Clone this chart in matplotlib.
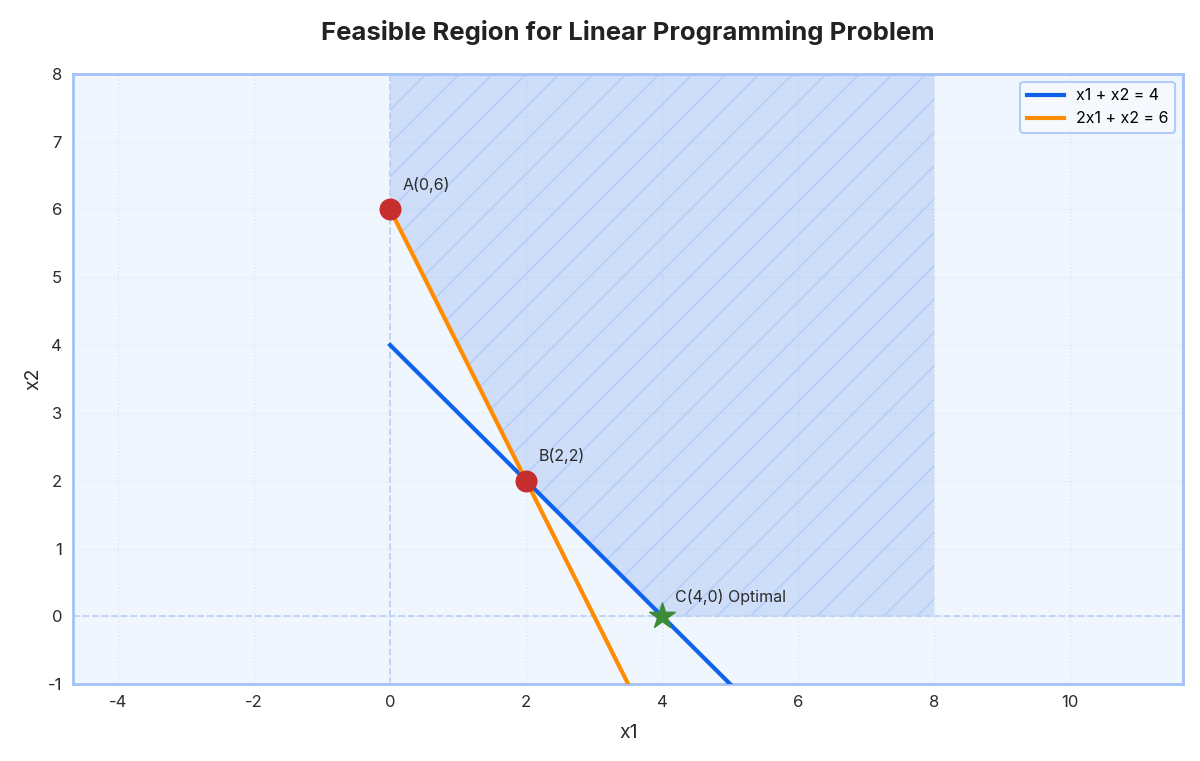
import numpy as np
import matplotlib
matplotlib.use("Agg")
import matplotlib.pyplot as plt

plt.rcParams['font.family'] = ['Inter', 'DejaVu Sans']
plt.rcParams['axes.unicode_minus'] = False
plt.rcParams['hatch.linewidth'] = 1.3

# constraint lines
x_blue = [0, 5]
y_blue = [4, -1]
x_orange = [0, 3.5]
y_orange = [6, -1]

# feasible region polygon corners
region_x = [0, 2, 4, 8, 8, 0]
region_y = [6, 2, 0, 0, 8, 8]

# vertices
vert_x = [0, 2]
vert_y = [6, 2]
vert_labels = ['A(0,6)', 'B(2,2)']
opt_x, opt_y = 4, 0

spine_col = '#a3c2f7'
text_col = '#2b2b2b'

fig, ax = plt.subplots(figsize=(12, 7.61), dpi=100)
fig.subplots_adjust(left=0.061, right=0.986, top=0.903, bottom=0.101)
ax.set_facecolor('#f0f6fe')

ax.fill(region_x, region_y, facecolor='#6b9aea', alpha=0.25, edgecolor='none', zorder=1)
ax.fill(region_x, region_y, facecolor='none', edgecolor='#b6cff8', hatch='/',
        linewidth=0, zorder=1)

ax.axhline(0, color='#bcd2f5', ls='--', lw=1.3, zorder=1.5)
ax.axvline(0, color='#bcd2f5', ls='--', lw=1.3, zorder=1.5)

ax.plot(x_blue, y_blue, color='#0f62ea', lw=3, label='x1 + x2 = 4', zorder=3)
ax.plot(x_orange, y_orange, color='#ff8c00', lw=3, label='2x1 + x2 = 6', zorder=3)

ax.scatter(vert_x, vert_y, s=220, color='#c62d2d', zorder=4)
for x, y, t in zip(vert_x, vert_y, vert_labels):
    ax.annotate(t, (x, y), xytext=(9, 14), textcoords='offset points',
                fontsize=11.5, color=text_col)
ax.scatter([opt_x], [opt_y], s=380, marker='*', color='#3d8b37', zorder=4)
ax.annotate('C(4,0) Optimal', (opt_x, opt_y), xytext=(9, 10),
            textcoords='offset points', fontsize=11.5, color=text_col)

ax.set_xlim(-4.66, 11.66)
ax.set_ylim(-1, 8)
ax.set_xticks([-4, -2, 0, 2, 4, 6, 8, 10])
ax.set_yticks(range(-1, 9))
ax.grid(True, ls=':', color='#dfe6f2', lw=1)
ax.set_axisbelow(True)
for s in ax.spines.values():
    s.set_color(spine_col)
    s.set_linewidth(2)
ax.tick_params(length=0, labelsize=12, colors=text_col, pad=8)

ax.set_xlabel('x1', fontsize=14, color=text_col, labelpad=10)
ax.set_ylabel('x2', fontsize=14, color=text_col, labelpad=4)
ax.set_title('Feasible Region for Linear Programming Problem', fontsize=18.5,
             fontweight='bold', color='#222222', pad=24)

leg = ax.legend(loc='upper right', fontsize=11.5, frameon=True, handlelength=2.3)
leg.get_frame().set_edgecolor(spine_col)
leg.get_frame().set_facecolor('#f7faff')
leg.get_frame().set_linewidth(1.5)

fig.savefig('out.png', dpi=100)
